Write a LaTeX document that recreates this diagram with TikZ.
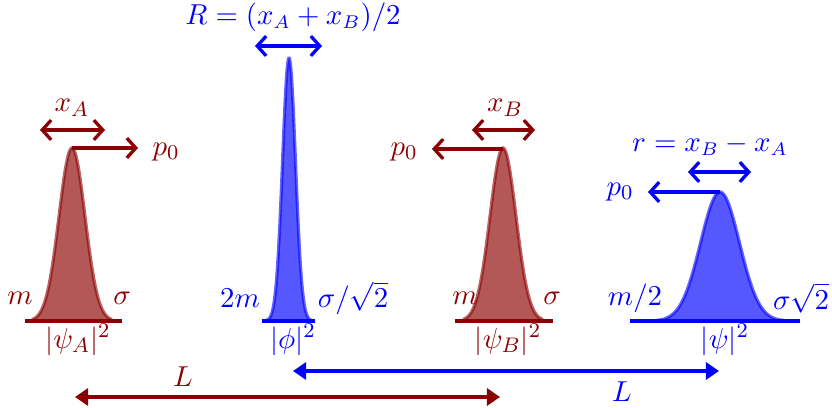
\documentclass[tikz,border=0pt]{standalone}
\usetikzlibrary{arrows.meta}
\definecolor{dred}{RGB}{139,0,0}
\definecolor{pblue}{RGB}{0,0,255}
\begin{document}
\begin{tikzpicture}[x=0.38pt,y=-0.38pt,
  lbl/.style={inner sep=0pt,font=\fontsize{11}{13}\selectfont},
  wide/.style={inner sep=0pt,font=\fontsize{10.5}{13}\selectfont},
  barb/.style={line width=1.25pt,arrows={Straight Barb[length=3.4pt,width=7.5pt,line width=1.25pt]-Straight Barb[length=3.4pt,width=7.5pt,line width=1.25pt]}},
  onebarb/.style={line width=1.25pt,arrows={-Straight Barb[length=3.4pt,width=7.5pt,line width=1.25pt]}},
  longarr/.style={line width=1.4pt,arrows={Triangle[length=5pt,width=6.5pt]-Triangle[length=5pt,width=6.5pt]}},
  peak/.style={fill=#1,fill opacity=0.66,draw=#1,draw opacity=0.6,line width=1.2pt},
  base/.style={draw=#1,line width=1.6pt}]
\useasboundingbox (0,0) rectangle (832,408);

% ---- peak A
\filldraw[peak=dred] plot[domain=32:112,samples=120,smooth] (\x,{321-173*exp(-((\x-72)/13)^2/2)});
\draw[base=dred] (25,321) -- (122,321);
\coordinate (topA) at (72,148);
\coordinate (xAl) at (40,130);
\coordinate (xAr) at (105,130);
\coordinate (pAe) at (138,148);
\draw[barb,dred] (xAl) -- (xAr);
\draw[onebarb,dred] (topA) -- (pAe);
\node[lbl,dred] (lxA) at (72,108) {$x_A$};
\node[lbl,dred] (lpA) at (166,152) {$p_0$};
\node[lbl,dred] (lmA) at (20,298) {$m$};
\node[lbl,dred] (lsA) at (122,298) {$\sigma$};
\node[lbl,dred] (lpsiA) at (78,340) {$|\psi_A|^2$};

% ---- peak phi
\filldraw[peak=pblue] plot[domain=263:315,samples=120,smooth] (\x,{321-263*exp(-((\x-289)/6.5)^2/2)});
\draw[base=pblue] (262,321) -- (315,321);
\coordinate (Rl) at (255,46);
\coordinate (Rr) at (322,46);
\draw[barb,pblue] (Rl) -- (Rr);
\node[wide,pblue] (lR) at (293,17) {$R=(x_A+x_B)/2$};
\node[lbl,pblue] (l2m) at (240,298) {$2m$};
\node[lbl,pblue] (lsphi) at (353,298) {$\sigma/\sqrt{2}$};
\node[lbl,pblue] (lphi) at (293,340) {$|\phi|^2$};

% ---- peak B
\filldraw[peak=dred] plot[domain=463:543,samples=120,smooth] (\x,{321-173*exp(-((\x-503)/13)^2/2)});
\draw[base=dred] (455,321) -- (553,321);
\coordinate (topB) at (503,149);
\coordinate (xBl) at (472,130);
\coordinate (xBr) at (535,130);
\coordinate (pBe) at (432,149);
\draw[barb,dred] (xBl) -- (xBr);
\draw[onebarb,dred] (topB) -- (pBe);
\node[lbl,dred] (lxB) at (505,108) {$x_B$};
\node[lbl,dred] (lpB) at (404,152) {$p_0$};
\node[lbl,dred] (lmB) at (465,298) {$m$};
\node[lbl,dred] (lsB) at (552,298) {$\sigma$};
\node[lbl,dred] (lpsiB) at (508,340) {$|\psi_B|^2$};

% ---- peak psi
\filldraw[peak=pblue] plot[domain=655:785,samples=120,smooth] (\x,{321-129*exp(-((\x-720)/19.5)^2/2)});
\draw[base=pblue] (630,321) -- (800,321);
\coordinate (toppsi) at (720,192);
\coordinate (rl) at (688,172);
\coordinate (rr) at (751,172);
\coordinate (ppsie) at (648,192);
\draw[barb,pblue] (rl) -- (rr);
\draw[onebarb,pblue] (toppsi) -- (ppsie);
\node[wide,pblue] (lr) at (710,145) {$r=x_B-x_A$};
\node[lbl,pblue] (lppsi) at (620,192) {$p_0$};
\node[lbl,pblue] (lmpsi) at (635,298) {$m/2$};
\node[lbl,pblue] (lspsi) at (801,298) {$\sigma\sqrt{2}$};
\node[lbl,pblue] (lpsi) at (725,340) {$|\psi|^2$};

% ---- distances
\coordinate (Lbl) at (293,371);
\coordinate (Lbr) at (719,371);
\coordinate (Lrl) at (75,397);
\coordinate (Lrr) at (500,397);
\draw[longarr,pblue] (Lbl) -- (Lbr);
\draw[longarr,dred] (Lrl) -- (Lrr);
\node[lbl,dred] (LA) at (183,377) {$L$};
\node[lbl,pblue] (LB) at (622,392) {$L$};
\end{tikzpicture}
\end{document}
